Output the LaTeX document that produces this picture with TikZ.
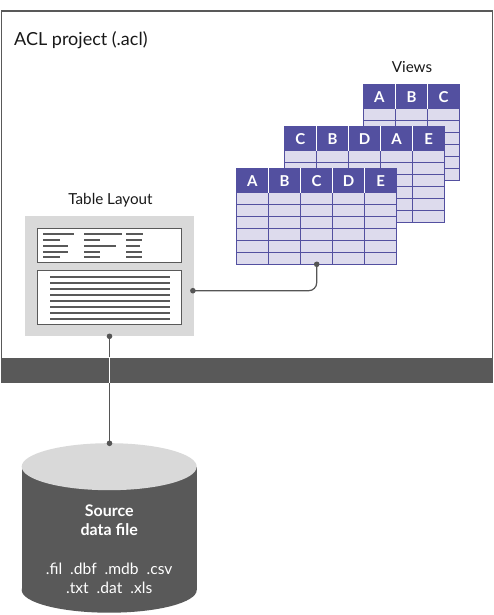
\documentclass[tikz,border=0pt]{standalone}
\usepackage{fontspec}
\setmainfont{Lato}
\usetikzlibrary{calc}
\definecolor{hdr}{RGB}{83,80,160}
\definecolor{cellc}{RGB}{221,219,237}
\definecolor{dgray}{RGB}{89,89,89}
\definecolor{lgray}{RGB}{217,217,217}
\definecolor{cgray}{RGB}{85,85,85}
\tikzset{
  conn/.style={draw=cgray, line width=1.2pt},
  dot/.style={circle, fill=cgray, inner sep=0pt, minimum size=5.6pt},
  hdrtxt/.style={text=white, font=\fontsize{15}{15}\selectfont\bfseries, inner sep=0pt},
  lbl/.style={font=\fontsize{15.2}{17}\selectfont, inner sep=0pt, text=black!90},
  lline/.style={draw=dgray, line width=1.8pt},
  ibox/.style={draw=dgray, fill=white, line width=1pt},
}
% #1 x, #2 y, #3 number of cols, #4 labels
\newcommand{\vtable}[4]{%
  \begin{scope}[shift={(#1,#2)}]
    \fill[cellc] (0,24.7) rectangle (#3*32.1,96);
    \foreach \k in {1,...,5} \draw[hdr, line width=1pt] (0,24.7+\k*11.9) -- (#3*32.1,24.7+\k*11.9);
    \foreach \k in {1,...,#3} \draw[hdr, line width=1pt] (\k*32.1-32.1,24.7) -- (\k*32.1-32.1,96);
    \draw[hdr, line width=1pt] (#3*32.1,0) -- (#3*32.1,96) -- (0,96) -- (0,0);
    \fill[hdr] (-0.5,-0.5) rectangle (#3*32.1+0.5,24.7);
    \foreach \l [count=\i] in {#4} {
      \node[hdrtxt] at (\i*32.1-16.05,12.6) {\l};
      \ifnum\i>1 \draw[white, line width=1pt] (\i*32.1-32.1,0) -- (\i*32.1-32.1,24.7);\fi
    }
  \end{scope}}
\begin{document}
\begin{tikzpicture}[x=1pt,y=-1pt]
\useasboundingbox (0,0) rectangle (494,615);
\fill[white] (0,0) rectangle (494,615);
% frame and band
\draw[dgray, line width=1.3pt] (1.3,11) rectangle (492.7,370);
\fill[dgray] (0.6,357.5) rectangle (493.4,382.5);
\node[anchor=west, font=\fontsize{18}{20}\selectfont, inner sep=0pt, text=black!90] (title) at (14,40) {ACL project (.acl)};
% views
\node[lbl] (views) at (412,67) {Views};
\vtable{363.3}{84.3}{3}{A,B,C}
\vtable{284.3}{126}{5}{C,B,D,A,E}
\vtable{236.3}{168}{5}{A,B,C,D,E}
% table layout
\node[lbl] (laylbl) at (110.5,200.7) {Table Layout};
\node[fill=lgray, anchor=north west, minimum width=168.3pt, minimum height=120pt, inner sep=0pt] (layout) at (25,216) {};
\draw[ibox] (37.3,228.3) rectangle (181.7,262);
\draw[ibox] (37.3,270) rectangle (181.7,324.3);
\foreach \y/\a/\b/\c in {234.3/73.7/121.7/143.3, 240/60/100/141.7, 246/67.7/115.7/140, 251.7/67.7/100/141.7, 257.3/60/100/141.7}{
  \draw[lline] (43.3,\y) -- (\a,\y);
  \draw[lline] (84,\y) -- (\b,\y);
  \draw[lline] (126,\y) -- (\c,\y);
}
\foreach \k in {0,...,7} \draw[lline] (50,276.7+\k*6) -- (170,276.7+\k*6);
% cylinder
\fill[dgray] (21.7,466.7) rectangle (196.7,590);
\fill[dgray] (109.2,590) ellipse [x radius=87.5, y radius=22.7];
\fill[lgray] (109.2,466.7) ellipse [x radius=87.5, y radius=23.5];
\node[hdrtxt, align=center, font=\fontsize{16}{19.3}\selectfont\bfseries] (src) at (109.2,520.5) {Source\\data file};
\node[text=white, align=center, inner sep=0pt, font=\fontsize{15.6}{18.7}\selectfont] (ext) at (109.2,578.5) {.fil\ \ .dbf\ \ .mdb\ \ .csv\\.txt\ \ .dat\ \ .xls};
% connector points
\coordinate (ldot) at (192.9,290.7);
\coordinate (vdot) at (316.7,264.3);
\coordinate (bdot) at (109.5,336.3);
\coordinate (cyltop) at (109.5,443.3);
\draw[conn, rounded corners=8pt] (ldot) -| (vdot);
\draw[conn] (bdot) -- (cyltop);
\begin{scope}
  \clip (0,357.5) rectangle (494,382.5);
  \draw[white, line width=1.2pt] (bdot) -- (cyltop);
\end{scope}
\node[dot] at (ldot) {};
\node[dot] at (vdot) {};
\node[dot] at (bdot) {};
\node[dot] at (cyltop) {};
\end{tikzpicture}
\end{document}
